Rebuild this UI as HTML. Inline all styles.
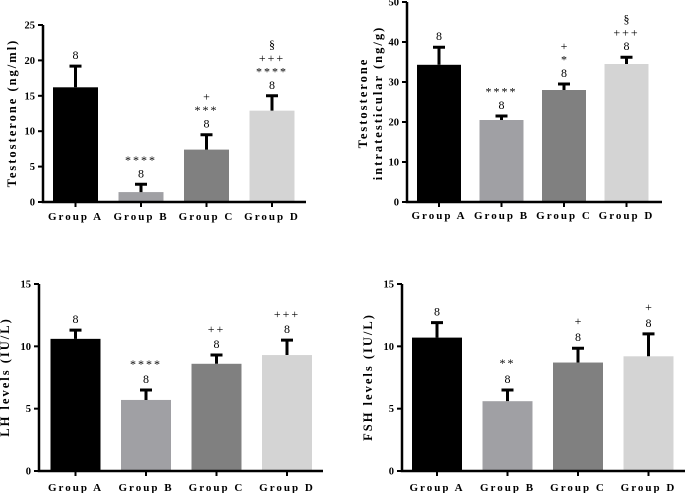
<!DOCTYPE html>
<html><head><meta charset="utf-8"><style>
html,body{margin:0;padding:0;background:#fff;width:685px;height:493px;overflow:hidden}
svg{display:block}
text{font-family:"Liberation Serif",serif;fill:#000}
</style></head><body>
<svg id="fig" width="685" height="493" viewBox="0 0 685 493" xmlns="http://www.w3.org/2000/svg"></svg>
<script>
const categories = ["Group A","Group B","Group C","Group D"];
const colors = ["#000000","#a0a0a4","#808080","#d4d4d4"];
// Chart 1: Testosterone (ng/ml)
const t1Values = [16.2, 1.4, 7.4, 12.9];
const t1Errors = [3.0, 1.1, 2.1, 2.1];
const t1Ticks = [0,5,10,15,20,25];
const t1Ann = [["8"],["8","****"],["8","***","+"],["8","****","+++","§"]];
// Chart 2: Testosterone intratesticular (ng/g)
const t2Values = [34.3, 20.5, 28.0, 34.5];
const t2Errors = [4.4, 1.0, 1.5, 1.7];
const t2Ticks = [0,10,20,30,40,50];
const t2Ann = [["8"],["8","****"],["8","*","+"],["8","+++","§"]];
// Chart 3: LH levels (IU/L)
const lhValues = [10.6, 5.7, 8.6, 9.3];
const lhErrors = [0.7, 0.8, 0.7, 1.2];
const lhTicks = [0,5,10,15];
const lhAnn = [["8"],["8","****"],["8","++"],["8","+++"]];
// Chart 4: FSH levels (IU/L)
const fshValues = [10.7, 5.6, 8.7, 9.2];
const fshErrors = [1.2, 0.9, 1.15, 1.8];
const fshTicks = [0,5,10,15];
const fshAnn = [["8"],["8","**"],["8","+"],["8","+"]];

const NS="http://www.w3.org/2000/svg";
const svg=document.getElementById('fig');
function mk(tag,attrs,parent){const e=document.createElementNS(NS,tag);for(const k in attrs)e.setAttribute(k,attrs[k]);(parent||svg).appendChild(e);return e;}

function chart(cfg){
  const g=mk('g',{});
  
  
  const yMax=cfg.ticks[cfg.ticks.length-1];
  const y=v=>cfg.y0-(v/yMax)*(cfg.y0-cfg.yTop);
  const bw=cfg.bw;
  const cx=i=>cfg.firstC+i*cfg.step;
  cfg.values.forEach((v,i)=>{
    const r=mk('rect',{x:cx(i)-bw/2,y:y(v),width:bw,height:cfg.y0-y(v),fill:colors[i]},g);
    
    
    const top=y(v+cfg.errors[i]);
    const eb=mk('path',{d:`M${cx(i)},${y(v)} V${top} M${cx(i)-6},${top} H${cx(i)+6}`,stroke:'#000','stroke-width':3,fill:'none'},g);
    
    
    cfg.ann[i].forEach((s,j)=>{
      const t=mk('text',{x:cx(i),y:top-7-j*cfg.annStep,'text-anchor':'middle','font-size':12,'letter-spacing':s.length>1?2:0},g);
      t.textContent=s;
      
      
    });
    const xl=mk('text',{x:cx(i),y:cfg.labelY,'text-anchor':'middle','font-size':11,'font-weight':'bold','letter-spacing':2},g);
    xl.textContent=categories[i];
    
    
    mk('line',{x1:cx(i),x2:cx(i),y1:cfg.y0,y2:cfg.y0+5,stroke:'#000','stroke-width':2},g);
  });
  const ax=mk('path',{d:`M${cfg.ax},${cfg.yTop} V${cfg.y0} H${cfg.xEnd}`,stroke:'#000','stroke-width':2.5,fill:'none'},g);
  
  
  cfg.ticks.forEach(t=>{
    mk('line',{x1:cfg.ax-5,x2:cfg.ax,y1:y(t),y2:y(t),stroke:'#000','stroke-width':2},g);
    const tl=mk('text',{x:cfg.ax-8,y:y(t)+3.5,'text-anchor':'end','font-size':10.5,'font-weight':'bold'},g);
    tl.textContent=t;
    
    
  });
  cfg.title.forEach((line,k)=>{
    const tx=cfg.titleX[k];
    const tt=mk('text',{x:tx,y:cfg.titleY,'text-anchor':'middle','font-size':12.5,'font-weight':'bold','letter-spacing':2,transform:`rotate(-90 ${tx} ${cfg.titleY})`},g);
    tt.textContent=line;
    
    
  });
}
chart({name:'testosterone-chart',values:t1Values,errors:t1Errors,ticks:t1Ticks,ann:t1Ann,ax:43,xEnd:306,yTop:25,y0:202,firstC:75.5,step:65.5,bw:45,labelY:220,annStep:13.5,title:['Testosterone (ng/ml)'],titleX:[16],titleY:113});
chart({name:'intratesticular-testosterone-chart',values:t2Values,errors:t2Errors,ticks:t2Ticks,ann:t2Ann,ax:407,xEnd:662,yTop:2,y0:202,firstC:439,step:62.5,bw:44,labelY:219,annStep:13.5,title:['Testosterone','intratesticular (ng/g)'],titleX:[367,382],titleY:103});
chart({name:'lh-chart',values:lhValues,errors:lhErrors,ticks:lhTicks,ann:lhAnn,ax:39,xEnd:323,yTop:284,y0:471,firstC:75.5,step:70.5,bw:50,labelY:491,annStep:15,title:['LH levels (IU/L)'],titleX:[9],titleY:377});
chart({name:'fsh-chart',values:fshValues,errors:fshErrors,ticks:fshTicks,ann:fshAnn,ax:402,xEnd:685,yTop:284,y0:471,firstC:437,step:70.5,bw:50,labelY:491,annStep:16,title:['FSH levels (IU/L)'],titleX:[372],titleY:377});
</script>
</body></html>
